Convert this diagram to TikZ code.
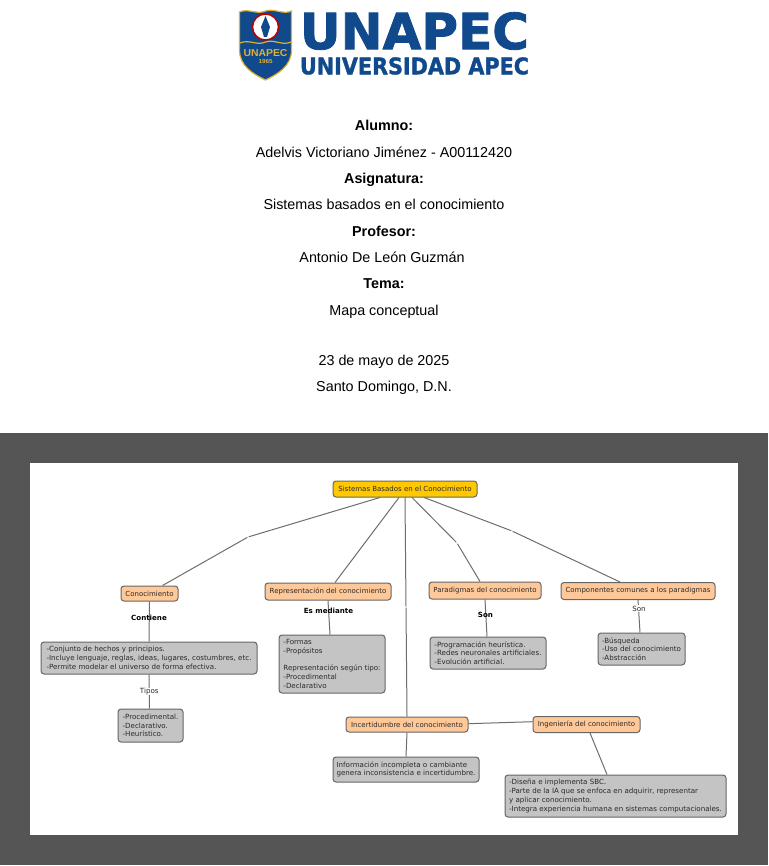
\documentclass[tikz,border=0pt]{standalone}
\usepackage{fontspec}
\usepackage{graphicx}
\setmainfont{Liberation Sans}
\newfontfamily\mapfont{DejaVu Sans}
\newfontfamily\logofont[BoldFeatures={FakeBold=1.6}]{DejaVu Sans}
\definecolor{uniblue}{HTML}{104A8C}
\definecolor{unigold}{HTML}{E0B030}
\definecolor{panelgray}{HTML}{555555}
\definecolor{edgegray}{HTML}{6E6E6E}
\definecolor{rootgold}{HTML}{FFC800}
\definecolor{conceptorange}{HTML}{FFC898}
\definecolor{detailgray}{HTML}{C4C4C4}
\definecolor{boxborder}{HTML}{666666}
\definecolor{maptext}{HTML}{2A2A2A}
\begin{document}
\begin{tikzpicture}[x=1pt,y=-1pt]
    \tikzstyle{cover} = [font=\fontsize{14.35}{16}\selectfont, inner sep=0pt, text height=11.5pt, text depth=1pt]
    \tikzstyle{coverbold} = [cover, font=\fontsize{14.35}{16}\selectfont\bfseries]
    \tikzstyle{mapbox} = [draw=boxborder, line width=1pt, rounded corners=3pt, inner sep=0pt, text=maptext]
    \tikzstyle{root} = [mapbox, fill=rootgold, align=center, font=\mapfont\fontsize{7}{8.7}\selectfont]
    \tikzstyle{concept} = [mapbox, fill=conceptorange, align=center, font=\mapfont\fontsize{7}{8.7}\selectfont]
    \tikzstyle{detail} = [mapbox, fill=detailgray, align=left, font=\mapfont\fontsize{7.1}{8.7}\selectfont]
    \tikzstyle{link} = [edgegray, line width=1pt]
    \tikzstyle{linklabel} = [inner sep=0.5pt, fill=white, text=maptext, font=\mapfont\fontsize{7.1}{8.7}\selectfont]
    \tikzstyle{linkbold} = [inner sep=0.5pt, text=black, font=\mapfont\fontsize{7.1}{8.7}\selectfont\bfseries]
    \tikzstyle{bendmark} = [inner sep=0pt, minimum size=1pt, fill=white]
    \useasboundingbox (0,0) rectangle (768,866);

    % Logo shield
    \fill [uniblue, draw=unigold, line width=1.2pt] (239.5,12) .. controls (248,8) and (257,15) .. (265.5,11) .. controls (274,8) and (283,15) .. (291.5,11) -- (291.5,50) .. controls (291.5,66) and (278,74) .. (265.5,80) .. controls (253,74) and (239.5,66) .. (239.5,50) -- cycle;
    \draw [unigold, line width=1.2pt] (240,43) .. controls (249,39) and (257,46) .. (265.5,42) .. controls (274,39) and (282,46) .. (291,42);
    \draw [red!75!black, fill=white, line width=1.5pt] (265.5,27) circle (13);
    \fill [uniblue] (265.5,16) -- (270,27) -- (267,37) -- (264,37) -- (261,27) -- cycle;
    \node [inner sep=0pt, text=unigold, font=\bfseries] (ShieldName) at (265.5,53.5) {\resizebox{44pt}{7pt}{UNAPEC}};
    \node [inner sep=0pt, text=unigold, font=\bfseries] (ShieldYear) at (265.5,62) {\resizebox{14pt}{4pt}{1965}};

    % Logo lettering
    \node [inner sep=0pt, text=uniblue, font=\logofont\bfseries] (LogoBig) at (414.5,31) {\resizebox{229pt}{37pt}{UNAPEC}};
    \node [inner sep=0pt, text=uniblue, font=\logofont\bfseries] (LogoSmall) at (414.5,66) {\resizebox{229pt}{17pt}{UNIVERSIDAD APEC}};

    % Cover text
    \node [coverbold] (Alumno) at (384,125.5) {Alumno:};
    \node [cover] (AlumnoName) at (384,152) {Adelvis Victoriano Jiménez - A00112420};
    \node [coverbold] (Asignatura) at (384,178) {Asignatura:};
    \node [cover] (AsignaturaName) at (384,204.5) {Sistemas basados en el conocimiento};
    \node [coverbold] (Profesor) at (384,231) {Profesor:};
    \node [cover] (ProfesorName) at (382,257.5) {Antonio De León Guzmán};
    \node [coverbold] (Tema) at (384,283.5) {Tema:};
    \node [cover] (TemaName) at (384,310) {Mapa conceptual};
    \node [cover] (Fecha) at (384,360.5) {23 de mayo de 2025};
    \node [cover] (Lugar) at (384,386.5) {Santo Domingo, D.N.};

    % Map panel
    \fill [panelgray] (0,433) rectangle (768,865);
    \fill [white] (30,463) rectangle (738,835);

    % Top node
    \node [root, minimum width=144pt, minimum height=16pt] (Top) at (405,489) {Sistemas Basados en el Conocimiento};

    % Main concepts
    \node [concept, minimum width=57pt, minimum height=15pt] (Conocimiento) at (149.5,593.5) {Conocimiento};
    \node [concept, minimum width=126pt, minimum height=17pt] (Representacion) at (328,591.5) {Representación del conocimiento};
    \node [concept, minimum width=112pt, minimum height=17pt] (Paradigmas) at (485,590.5) {Paradigmas del conocimiento};
    \node [concept, minimum width=154pt, minimum height=17pt] (Componentes) at (638,591) {Componentes comunes a los paradigmas};
    \node [concept, minimum width=122pt, minimum height=15pt] (Incertidumbre) at (407,724.5) {Incertidumbre del conocimiento};
    \node [concept, minimum width=107pt, minimum height=16pt] (Ingenieria) at (586.5,724.5) {Ingeniería del conocimiento};

    % Detail boxes
    \node [detail, minimum width=216pt, minimum height=32pt] (Hechos) at (149,658) {-Conjunto de hechos y principios.\\-Incluye lenguaje, reglas, ideas, lugares, costumbres, etc.\\-Permite modelar el universo de forma efectiva.};
    \node [detail, minimum width=65pt, minimum height=33pt] (Tipos) at (150.5,725.5) {-Procedimental.\\-Declarativo.\\-Heurístico.};
    \node [detail, minimum width=106pt, minimum height=58pt] (Formas) at (332,664) {-Formas\\-Propósitos\\[8.7pt]Representación según tipo:\\-Procedimental\\-Declarativo};
    \node [detail, minimum width=116pt, minimum height=32pt] (Programacion) at (488,653) {-Programación heurística.\\-Redes neuronales artificiales.\\-Evolución artificial.};
    \node [detail, minimum width=87pt, minimum height=32pt] (Busqueda) at (641.5,649) {-Búsqueda\\-Uso del conocimiento\\-Abstracción};
    \node [detail, minimum width=146pt, minimum height=25pt] (Informacion) at (406,769.5) {Información incompleta o cambiante\\genera inconsistencia e incertidumbre.};
    \node [detail, minimum width=221pt, minimum height=42pt] (Disena) at (615.5,796) {-Diseña e implementa SBC.\\-Parte de la IA que se enfoca en adquirir, representar\\y aplicar conocimiento.\\-Integra experiencia humana en sistemas computacionales.};

    % Bends on the long links
    \node [bendmark] (BendA) at (248,537) {};
    \node [bendmark] (BendB) at (457,543) {};
    \node [bendmark] (BendC) at (512,531) {};
    \node [bendmark] (BendD) at (406,607) {};

    % Links from the top node
    \draw [link] ([xshift=-25pt]Top.south) -- (BendA) -- ([xshift=13pt]Conocimiento.north);
    \draw [link] ([xshift=-6pt]Top.south) -- ([xshift=7pt]Representacion.north);
    \draw [link] ([xshift=7pt]Top.south) -- (BendB) -- ([xshift=-5pt]Paradigmas.north);
    \draw [link] ([xshift=19pt]Top.south) -- (BendC) -- ([xshift=-18pt]Componentes.north);
    \draw [link] (Top.south) -- (BendD) -- (Incertidumbre.north);

    % Links to the details
    \draw [link] (Conocimiento.south) -- (Hechos.north);
    \node [linkbold] (Contiene) at (149,617.5) {Contiene};
    \draw [link] (Hechos.south) -- node [linklabel] (TiposLabel) {Tipos} ([xshift=-1pt]Tipos.north);
    \draw [link] (Representacion.south) -- ([xshift=-2pt]Formas.north);
    \node [linkbold] (Mediante) at (328.5,611) {Es mediante};
    \draw [link] (Paradigmas.south) -- ([xshift=-1pt]Programacion.north);
    \node [linkbold] (SonBold) at (485.5,614.5) {Son};
    \draw [link] (Componentes.south) -- ([xshift=-1.5pt]Busqueda.north);
    \node [linklabel] (SonPlain) at (639,608.5) {Son};
    \draw [link] ([yshift=0.8pt]Incertidumbre.east) -- ([yshift=2.8pt]Ingenieria.west);
    \draw [link] (Incertidumbre.south) -- (Informacion.north);
    \draw [link] ([xshift=3.5pt]Ingenieria.south) -- ([xshift=-8.5pt]Disena.north);
\end{tikzpicture}
\end{document}
